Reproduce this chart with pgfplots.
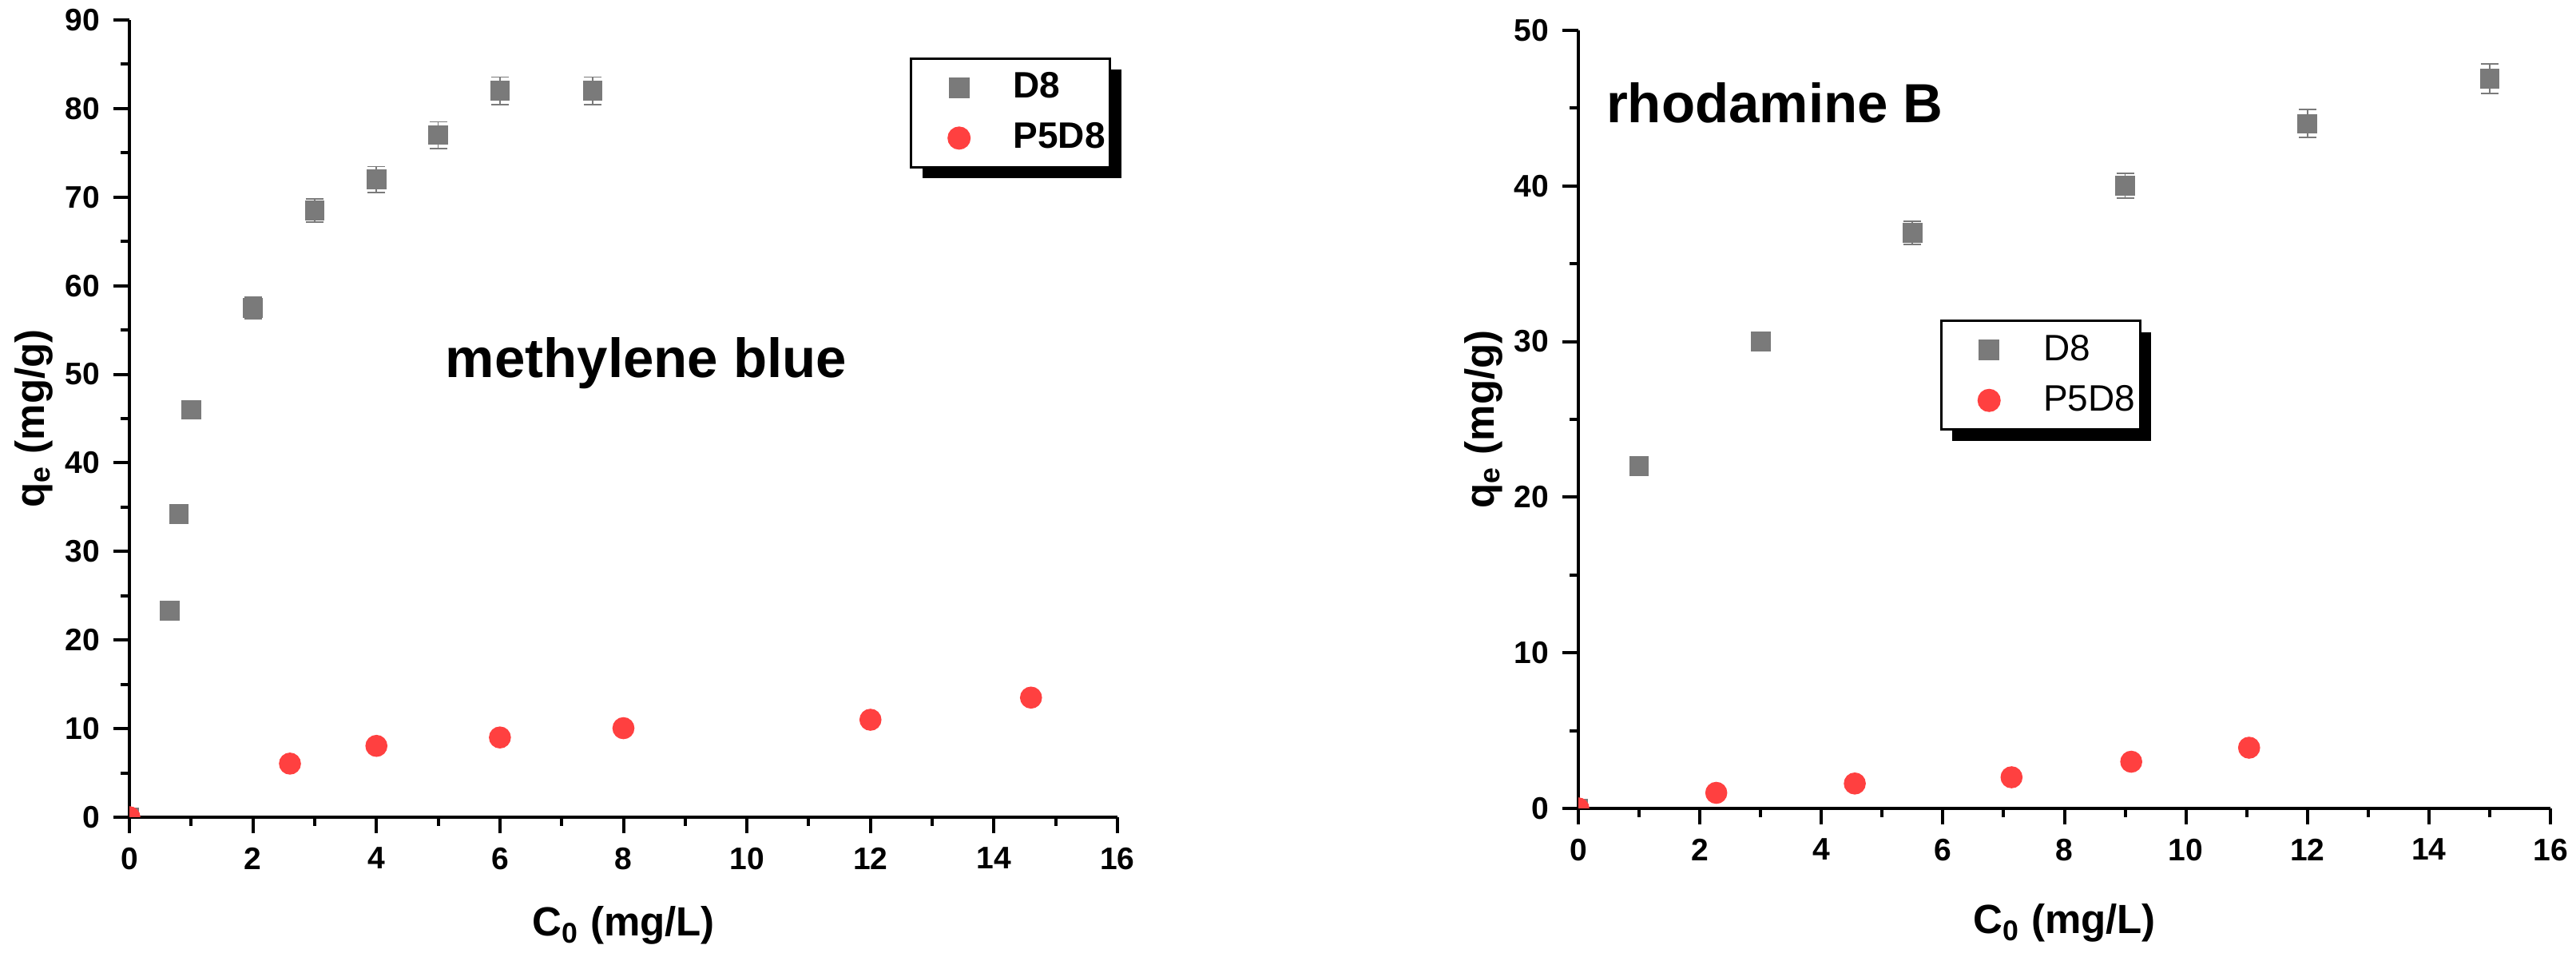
\documentclass[border=0pt]{standalone}
\usepackage{pgfplots}
\pgfplotsset{compat=1.18}
\usepackage{fontspec}
\setmainfont{Liberation Sans}
\usetikzlibrary{shadows}
\definecolor{dgray}{RGB}{122,122,122}
\definecolor{dred}{RGB}{255,64,64}
\newcommand{\tickfont}{\bfseries\fontsize{9.75}{10}\selectfont}
\newcommand{\labfont}{\bfseries\fontsize{12.75}{14}\selectfont}
\newcommand{\legfontB}{\bfseries\fontsize{11.5}{13}\selectfont}
\newcommand{\legfontR}{\fontsize{11.5}{13}\selectfont}
\pgfplotsset{
  myaxis/.style={
    scale only axis,
    axis x line=bottom, axis y line=left,
    axis line style={-, line width=1pt, black},
    every tick/.style={line width=1pt, black},
    tick align=outside,
    major tick length=5pt, minor tick length=2.75pt,
    minor tick num=1,
    xmin=0, xmax=16, xtick={0,2,...,16},
    /pgf/number format/assume math mode=true,
    ticklabel style={font=\tickfont},
    xticklabel style={anchor=north, inner sep=0pt, yshift=-4.25pt},
    yticklabel style={anchor=east, inner sep=0pt, xshift=-4pt},
    label style={font=\labfont},
    clip marker paths=true,
    legend image code/.code={\pgfpathrectangle{\pgfpoint{0pt}{-3.25pt}}{\pgfpoint{20pt}{6.5pt}}\pgfusepath{discard}\draw[mark repeat=2,mark phase=2,##1] plot coordinates {(0pt,0pt) (14.5pt,0pt) (20pt,0pt)};},
  },
  dstyle/.style={only marks, mark=square*, mark size=2.875pt,
    mark options={draw=none, fill=dgray}, color=dgray,
    error bars/.cd, y dir=both, y explicit,
    error bar style={line width=0.45pt, dgray},
    error mark options={rotate=90, line width=0.45pt, mark size=2.75pt, dgray}},
  pstyle/.style={only marks, mark=*, mark size=3.25pt,
    mark options={draw=none, fill=dred}, color=dred},
  mylegend/.style={
    draw=black, line width=0.75pt, fill=white,
    drop shadow={shadow xshift=3.5pt, shadow yshift=-3.5pt, fill=black, opacity=1},
    inner xsep=0.5pt, inner ysep=3.3pt,
    nodes={inner sep=1pt},
    row sep=4.27pt,
    /tikz/every odd column/.style={column sep=10.5pt},
    cells={anchor=west},
  },
}
\begin{document}
\begin{tikzpicture}
\path[use as bounding box] (0pt,0pt) rectangle (806.25pt,299.5pt);
% left
\begin{axis}[myaxis,
  at={(40.5pt,43.75pt)}, anchor=south west,
  width=309.25pt, height=249.5pt,
  ymin=0, ymax=90, ytick={0,10,...,90},
  xlabel={C\textsubscript{0} (mg/L)},
  ylabel={q\textsubscript{e} (mg/g)},
  xlabel style={at={(rel axis cs:0.5,0)}, anchor=base, yshift=-37.25pt},
  ylabel style={at={(rel axis cs:-0.0970,0.5)}, anchor=center},
  legend style={mylegend, font=\legfontB, at={(rel axis cs:0.790,0.953)}, anchor=north west},
]
\addplot[dstyle] coordinates {
 (0,0) +- (0,0)
 (0.65,23.3) +- (0,0.3)
 (0.8,34.2) +- (0,0.5)
 (1.0,46.0) +- (0,0.8)
 (2,57.5) +- (0,1.2)
 (3,68.5) +- (0,1.3)
 (4,72.0) +- (0,1.45)
 (5,77.0) +- (0,1.5)
 (6,82.0) +- (0,1.55)
 (7.5,82.0) +- (0,1.55)
};
\addlegendentry{D8}
\addplot[pstyle] coordinates {
 (0,0) (2.6,6.05) (4,8.05) (6,9.0) (8,10.05) (12,11.0) (14.6,13.5)
};
\addlegendentry{P5D8}
\node[anchor=base west, font=\bfseries\fontsize{17.25}{20}\selectfont, inner sep=0pt] at (axis cs:5.11,49.6) {methylene blue};
\end{axis}
% right
\begin{axis}[myaxis,
  at={(494pt,46.5pt)}, anchor=south west,
  width=304.25pt, height=243.5pt,
  ymin=0, ymax=50, ytick={0,10,...,50},
  xlabel={C\textsubscript{0} (mg/L)},
  ylabel={q\textsubscript{e} (mg/g)},
  xlabel style={at={(rel axis cs:0.5,0)}, anchor=base, yshift=-39.25pt},
  ylabel style={at={(rel axis cs:-0.0978,0.5)}, anchor=center},
  legend style={mylegend, font=\legfontR, at={(rel axis cs:0.372,0.628)}, anchor=north west},
]
\addplot[dstyle] coordinates {
 (0,0) +- (0,0)
 (1,22.0) +- (0,0.5)
 (3,30.0) +- (0,0.6)
 (5.5,37.0) +- (0,0.75)
 (9,40.0) +- (0,0.8)
 (12,44.0) +- (0,0.9)
 (15,46.9) +- (0,0.95)
};
\addlegendentry{D8}
\addplot[pstyle] coordinates {
 (0,0) (2.27,1.0) (4.55,1.6) (7.13,2.0) (9.1,3.0) (11.04,3.9)
};
\addlegendentry{P5D8}
\node[anchor=base west, font=\bfseries\fontsize{17.25}{20}\selectfont, inner sep=0pt] at (axis cs:0.45,44.05) {rhodamine B};
\end{axis}
\end{tikzpicture}
\end{document}
